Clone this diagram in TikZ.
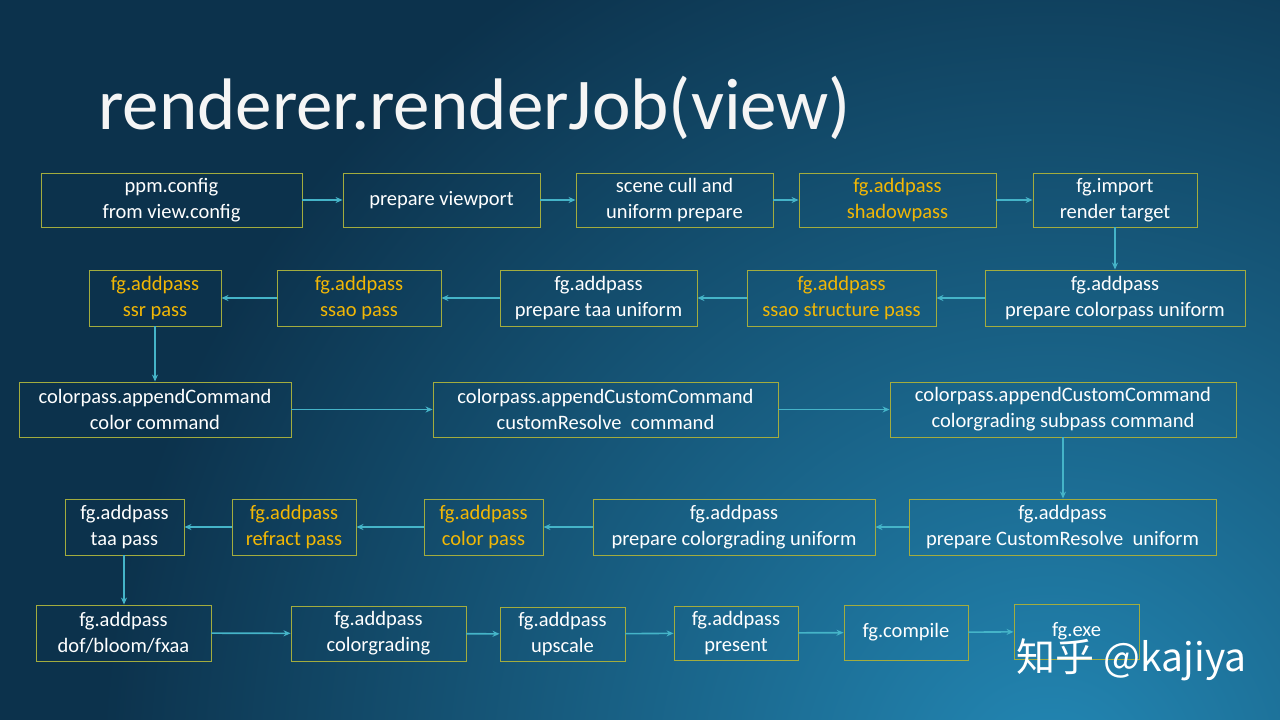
\documentclass[tikz,border=0pt]{standalone}
\usepackage{fontspec}
\setmainfont{Carlito}
\newfontfamily\cjk{Noto Sans CJK SC}
\usetikzlibrary{arrows.meta}
\definecolor{bgdark}{HTML}{0C324C}
\definecolor{bglight}{HTML}{2388B5}
\definecolor{boxline}{HTML}{A3AC3E}
\definecolor{ylw}{HTML}{F2B705}
\definecolor{arr}{HTML}{45B4C8}
\tikzset{
 bx/.style={draw=boxline,line width=0.9pt,text=white,align=center,inner sep=0pt,font=\fontsize{20.5}{26}\selectfont},
 yb/.style={bx,text=ylw},
 ar/.style={draw=arr,line width=1.6pt,-{Stealth[length=7pt,width=6pt]}}
}
\newcommand{\bxat}[6]{\node[#1,minimum width=#4-#2,minimum height=#5-#3] (#6) at ({(#2+#4)/2},{(#3+#5)/2})}
\begin{document}
\begin{tikzpicture}[x=1pt,y=-1pt]
\useasboundingbox (0,0) rectangle (1280,720);
\fill[bgdark] (0,0) rectangle (1280,720);
\begin{scope}
\clip (0,0) rectangle (1280,720);
\shade[inner color=bglight,outer color=bgdark] (1050,780) circle (950);
\end{scope}
\node[text=white!92!gray,font=\fontsize{73}{80}\selectfont,anchor=west,inner sep=0pt] (title) at (98,108) {renderer.renderJob(view)};
\bxat{bx}{41}{173}{302}{227}{a1}{ppm.config\\from view.config};
\bxat{bx}{343}{173}{540}{227}{a2}{prepare viewport};
\bxat{bx}{576}{173}{773}{227}{a3}{scene cull and\\uniform prepare};
\bxat{yb}{799}{173}{996}{227}{a4}{fg.addpass\\shadowpass};
\bxat{bx}{1033}{173}{1197}{227}{a5}{fg.import\\render target};
\bxat{yb}{89}{270}{221}{326}{b1}{fg.addpass\\ssr pass};
\bxat{yb}{277}{270}{441}{326}{b2}{fg.addpass\\ssao pass};
\bxat{bx}{500}{270}{697}{326}{b3}{fg.addpass\\prepare taa uniform};
\bxat{yb}{747}{270}{936}{326}{b4}{fg.addpass\\ssao structure pass};
\bxat{bx}{985}{270}{1245}{326}{b5}{fg.addpass\\prepare colorpass uniform};
\bxat{bx}{19}{382}{291}{437}{c1}{colorpass.appendCommand\\color command};
\bxat{bx}{433}{382}{778}{437}{c2}{colorpass.appendCustomCommand\\customResolve\ \ command};
\bxat{bx}{890}{382}{1236}{437}{c3}{colorpass.appendCustomCommand\\colorgrading subpass command};
\bxat{bx}{65}{499}{184}{555}{d1}{fg.addpass\\taa pass};
\bxat{yb}{232}{499}{356}{555}{d2}{fg.addpass\\refract pass};
\bxat{yb}{424}{499}{543}{555}{d3}{fg.addpass\\color pass};
\bxat{bx}{593}{499}{875}{555}{d4}{fg.addpass\\prepare colorgrading uniform};
\bxat{bx}{909}{499}{1216}{555}{d5}{fg.addpass\\prepare CustomResolve\ \ uniform};
\bxat{bx}{36}{605}{211}{661}{e1}{fg.addpass\\dof/bloom/fxaa};
\bxat{bx}{291}{606}{466}{661}{e2}{fg.addpass\\colorgrading};
\bxat{bx}{500}{607}{625}{661}{e3}{fg.addpass\\upscale};
\bxat{bx}{674}{606}{798}{660}{e4}{fg.addpass\\present};
\bxat{bx}{844}{605}{968}{660}{e5}{fg.compile};
\bxat{bx}{1014}{604}{1139}{659}{e6}{fg.exe};
\draw[ar] (a1) -- (a2); \draw[ar] (a2) -- (a3); \draw[ar] (a3) -- (a4); \draw[ar] (a4) -- (a5);
\draw[ar] (a5) -- (a5|-b5.north);
\draw[ar] (b5) -- (b4); \draw[ar] (b4) -- (b3); \draw[ar] (b3) -- (b2); \draw[ar] (b2) -- (b1);
\draw[ar] (b1) -- (b1|-c1.north);
\draw[ar] (c1) -- (c2); \draw[ar] (c2) -- (c3);
\coordinate (c3s) at (1063,437);
\draw[ar] (c3s) -- (c3s|-d5.north);
\draw[ar] (d5) -- (d4); \draw[ar] (d4) -- (d3); \draw[ar] (d3) -- (d2); \draw[ar] (d2) -- (d1);
\coordinate (d1s) at (124,555);
\draw[ar] (d1s) -- (d1s|-e1.north);
\draw[ar] (e1) -- (e2); \draw[ar] (e2) -- (e3); \draw[ar] (e3) -- (e4); \draw[ar] (e4) -- (e5); \draw[ar] (e5) -- (e6);
\node[text=white,font=\cjk\fontsize{39}{44}\selectfont,anchor=east] (wm) at (1250,660) {知乎 @kajiya};
\end{tikzpicture}
\end{document}
